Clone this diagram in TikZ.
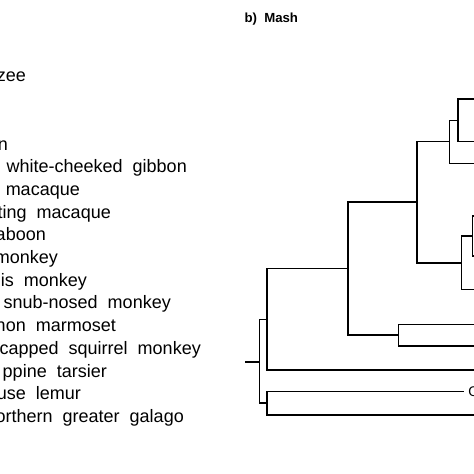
\documentclass[tikz,border=0pt]{standalone}
\usepackage{fontspec}
\setmainfont{Liberation Sans}
\usetikzlibrary{positioning}
\begin{document}
\begin{tikzpicture}[x=1pt,y=-1pt,
    taxon/.style={anchor=base east,inner sep=0pt,font={\fontsize{18}{20}\selectfont\spaceskip=0.556em\relax}},
    tiplabel/.style={inner sep=0pt,font={\fontsize{14}{16}\selectfont}},
    heading/.style={anchor=base west,inner sep=0pt,font={\bfseries\fontsize{13.2}{15}\selectfont\spaceskip=0.556em\relax}},
    branch/.style={line width=1.5pt}]
      \useasboundingbox (0,0) rectangle (474,474);
      \clip (0,0) rectangle (474,474);
      \node[heading] (title) at (244.3,22.7) {b) Mash};
      \draw
        (26,81.9) node[taxon] (a1){zee}
        (8,150) node[taxon] (a2){n}
        (187,172.7) node[taxon] (a3){white-cheeked gibbon}
        (80,195.4) node[taxon] (a4){macaque}
        (111,218.1) node[taxon] (a5){ting macaque}
        (46,240.8) node[taxon] (a6){aboon}
        (58,263.5) node[taxon] (a7){monkey}
        (87,286.2) node[taxon] (a8){is monkey}
        (171,308.9) node[taxon] (a9){snub-nosed monkey}
        (116,331.6) node[taxon] (a10){non marmoset}
        (201,354.3) node[taxon] (a11){capped squirrel monkey}
        (107,377) node[taxon] (a12){ppine tarsier}
        (81,399.7) node[taxon] (a13){use lemur}
        (184,422.4) node[taxon] (a14){orthern greater galago};
      \coordinate (stem) at (245.3,361.8);
      \coordinate (r0) at (259.7,361.8);
      \coordinate (n1) at (267,319.3);
      \coordinate (n2) at (267,403.2);
      \coordinate (n3) at (348,268.3);
      \coordinate (n4) at (417,202.2);
      \coordinate (n5) at (398.7,335.2);
      \coordinate (n6) at (449.3,141.7);
      \coordinate (n7) at (461.5,263);
      \coordinate (n8) at (472.5,236);
      \coordinate (n9) at (458,120.5);
      \coordinate (l1) at (480,99);
      \coordinate (l2) at (480,141.7);
      \coordinate (l3) at (480,163.3);
      \coordinate (l4) at (480,216);
      \coordinate (l5) at (480,256);
      \coordinate (l6) at (480,289.3);
      \coordinate (l7) at (480,324.3);
      \coordinate (l8) at (480,346);
      \coordinate (l9) at (480,370);
      \coordinate (l10) at (463.7,391.5);
      \coordinate (l11) at (480,415);
      \node[tiplabel,right=4.5pt of l10] (b10){O};
      \begin{scope}[branch]
        \draw (stem) -- (r0);
        \draw (r0) |- (n1);
        \draw (r0) |- (n2);
        \draw (n1) |- (n3);
        \draw (n1) |- (l9);
        \draw (n2) |- (l10);
        \draw (n2) |- (l11);
        \draw (n3) |- (n4);
        \draw (n3) |- (n5);
        \draw (n4) |- (n6);
        \draw (n4) |- (n7);
        \draw (n5) |- (l7);
        \draw (n5) |- (l8);
        \draw (n6) |- (n9);
        \draw (n6) |- (l3);
        \draw (n7) |- (n8);
        \draw (n7) |- (l6);
        \draw (n8) |- (l4);
        \draw (n8) |- (l5);
        \draw (n9) |- (l1);
        \draw (n9) |- (l2);
      \end{scope}
    \end{tikzpicture}
\end{document}
